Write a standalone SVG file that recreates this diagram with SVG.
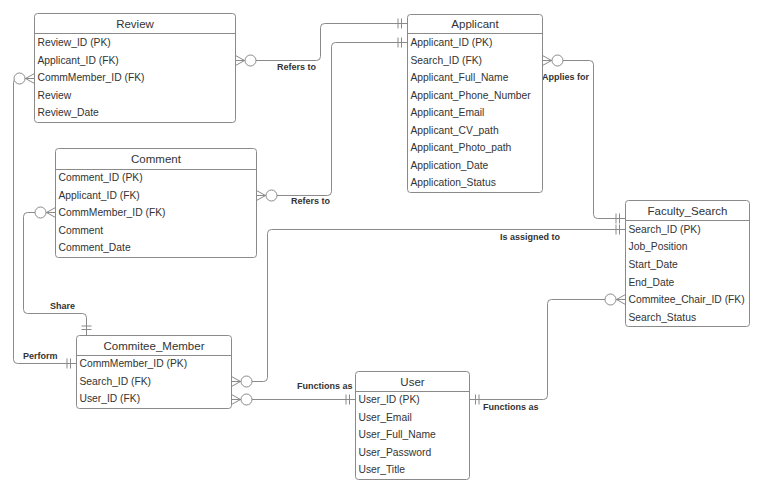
<svg xmlns="http://www.w3.org/2000/svg" width="765" height="490" viewBox="0 0 765 490">
<style>
.box{fill:#fff;stroke:#8a8a8a;stroke-width:1}
.sep{stroke:#8a8a8a;stroke-width:1}
.title{font-family:"Liberation Sans",Arial,sans-serif;font-size:11.5px;fill:#333;text-anchor:middle}
.row{font-family:"Liberation Sans",Arial,sans-serif;font-size:10.3px;fill:#333}
.lbl{font-family:"Liberation Sans",Arial,sans-serif;font-size:9px;font-weight:bold;fill:#333}
.conn{fill:none;stroke:#8a8a8a;stroke-width:1}
</style>
<defs>
<marker id="many" markerUnits="userSpaceOnUse" viewBox="-23 -8 24 16" markerWidth="24" markerHeight="16" refX="0" refY="0" orient="auto-start-reverse" overflow="visible">
<path d="M0,-5 L-9,0 L0,5 M0,0 H-9" fill="none" stroke="#8a8a8a" stroke-width="1"/>
<circle cx="-15" cy="0" r="5.5" fill="#fff" stroke="#8a8a8a" stroke-width="1"/>
</marker>
<marker id="one" markerUnits="userSpaceOnUse" viewBox="-12 -7 13 14" markerWidth="13" markerHeight="14" refX="0" refY="0" orient="auto-start-reverse" overflow="visible">
<path d="M-9.5,-5 V5 M-6,-5 V5" fill="none" stroke="#8a8a8a" stroke-width="1"/>
</marker>
</defs>
<rect width="765" height="490" fill="#fff"/>
<g id="connectors">
<path class="conn" marker-start="url(#many)" marker-end="url(#one)" d="M235.5,60.5 H316.5 Q320.5,60.5 320.5,56.5 V27.5 Q320.5,23.5 324.5,23.5 H407.5"/>
<path class="conn" marker-start="url(#many)" marker-end="url(#one)" d="M256.5,195.5 H327.5 Q331.5,195.5 331.5,191.5 V46.5 Q331.5,42.5 335.5,42.5 H407.5"/>
<path class="conn" marker-start="url(#many)" marker-end="url(#one)" d="M542.5,60.5 H589.5 Q593.5,60.5 593.5,64.5 V214.5 Q593.5,218.5 597.5,218.5 H625.5"/>
<path class="conn" marker-start="url(#many)" marker-end="url(#one)" d="M231.5,381.5 H263.5 Q267.5,381.5 267.5,377.5 V233.5 Q267.5,229.5 271.5,229.5 H625.5"/>
<path class="conn" marker-start="url(#many)" marker-end="url(#one)" d="M625.5,299.5 H551.5 Q547.5,299.5 547.5,303.5 V395.5 Q547.5,399.5 543.5,399.5 H469.5"/>
<path class="conn" marker-start="url(#many)" marker-end="url(#one)" d="M231.5,399.5 H355.5"/>
<path class="conn" marker-start="url(#many)" marker-end="url(#one)" d="M34.5,78.5 H17.5 Q13.5,78.5 13.5,82.5 V359.5 Q13.5,363.5 17.5,363.5 H76.5"/>
<path class="conn" marker-start="url(#many)" marker-end="url(#one)" d="M55.5,212.5 H27.5 Q23.5,212.5 23.5,216.5 V309.5 Q23.5,313.5 27.5,313.5 H82.5 Q86.5,313.5 86.5,317.5 V335.5"/>
<text class="lbl" x="277" y="70">Refers to</text>
<text class="lbl" x="291" y="204">Refers to</text>
<text class="lbl" x="542" y="80">Applies for</text>
<text class="lbl" x="500" y="240">Is assigned to</text>
<text class="lbl" x="297" y="389">Functions as</text>
<text class="lbl" x="483" y="410">Functions as</text>
<text class="lbl" x="23" y="359">Perform</text>
<text class="lbl" x="50" y="309">Share</text>
</g>
<g id="review">
<rect class="box" x="34.5" y="13.5" width="201" height="109" rx="3"/>
<line class="sep" x1="34.5" y1="33.5" x2="235.5" y2="33.5"/>
<text class="title" x="135" y="27.5">Review</text>
<text class="row" x="37.5" y="46.2">Review_ID (PK)</text>
<text class="row" x="37.5" y="63.8">Applicant_ID (FK)</text>
<text class="row" x="37.5" y="81.3">CommMember_ID (FK)</text>
<text class="row" x="37.5" y="98.9">Review</text>
<text class="row" x="37.5" y="116.4">Review_Date</text>
</g>
<g id="applicant">
<rect class="box" x="407.5" y="14.5" width="135" height="178" rx="3"/>
<line class="sep" x1="407.5" y1="33.5" x2="542.5" y2="33.5"/>
<text class="title" x="475" y="27.8">Applicant</text>
<text class="row" x="410.5" y="46">Applicant_ID (PK)</text>
<text class="row" x="410.5" y="63.6">Search_ID (FK)</text>
<text class="row" x="410.5" y="81.1">Applicant_Full_Name</text>
<text class="row" x="410.5" y="98.7">Applicant_Phone_Number</text>
<text class="row" x="410.5" y="116.2">Applicant_Email</text>
<text class="row" x="410.5" y="133.8">Applicant_CV_path</text>
<text class="row" x="410.5" y="151.3">Applicant_Photo_path</text>
<text class="row" x="410.5" y="168.9">Application_Date</text>
<text class="row" x="410.5" y="186.4">Application_Status</text>
</g>
<g id="comment">
<rect class="box" x="55.5" y="148.5" width="201" height="109" rx="3"/>
<line class="sep" x1="55.5" y1="169.5" x2="256.5" y2="169.5"/>
<text class="title" x="156" y="162.8">Comment</text>
<text class="row" x="58.5" y="181.3">Comment_ID (PK)</text>
<text class="row" x="58.5" y="198.8">Applicant_ID (FK)</text>
<text class="row" x="58.5" y="216.3">CommMember_ID (FK)</text>
<text class="row" x="58.5" y="233.8">Comment</text>
<text class="row" x="58.5" y="251.3">Comment_Date</text>
</g>
<g id="faculty_search">
<rect class="box" x="625.5" y="200.5" width="124" height="126" rx="3"/>
<line class="sep" x1="625.5" y1="220.5" x2="749.5" y2="220.5"/>
<text class="title" x="687.5" y="214.5">Faculty_Search</text>
<text class="row" x="628.5" y="232.8">Search_ID (PK)</text>
<text class="row" x="628.5" y="250.4">Job_Position</text>
<text class="row" x="628.5" y="267.9">Start_Date</text>
<text class="row" x="628.5" y="285.5">End_Date</text>
<text class="row" x="628.5" y="303">Commitee_Chair_ID (FK)</text>
<text class="row" x="628.5" y="320.6">Search_Status</text>
</g>
<g id="commitee_member">
<rect class="box" x="76.5" y="335.5" width="155" height="73" rx="3"/>
<line class="sep" x1="76.5" y1="355.5" x2="231.5" y2="355.5"/>
<text class="title" x="154" y="349.5">Commitee_Member</text>
<text class="row" x="79.5" y="367.3">CommMember_ID (PK)</text>
<text class="row" x="79.5" y="384.8">Search_ID (FK)</text>
<text class="row" x="79.5" y="402.3">User_ID (FK)</text>
</g>
<g id="user">
<rect class="box" x="355.5" y="371.5" width="114" height="108" rx="3"/>
<line class="sep" x1="355.5" y1="391.5" x2="469.5" y2="391.5"/>
<text class="title" x="412.5" y="385.5">User</text>
<text class="row" x="358.5" y="403.3">User_ID (PK)</text>
<text class="row" x="358.5" y="420.8">User_Email</text>
<text class="row" x="358.5" y="438.3">User_Full_Name</text>
<text class="row" x="358.5" y="455.8">User_Password</text>
<text class="row" x="358.5" y="473.3">User_Title</text>
</g>
</svg>
